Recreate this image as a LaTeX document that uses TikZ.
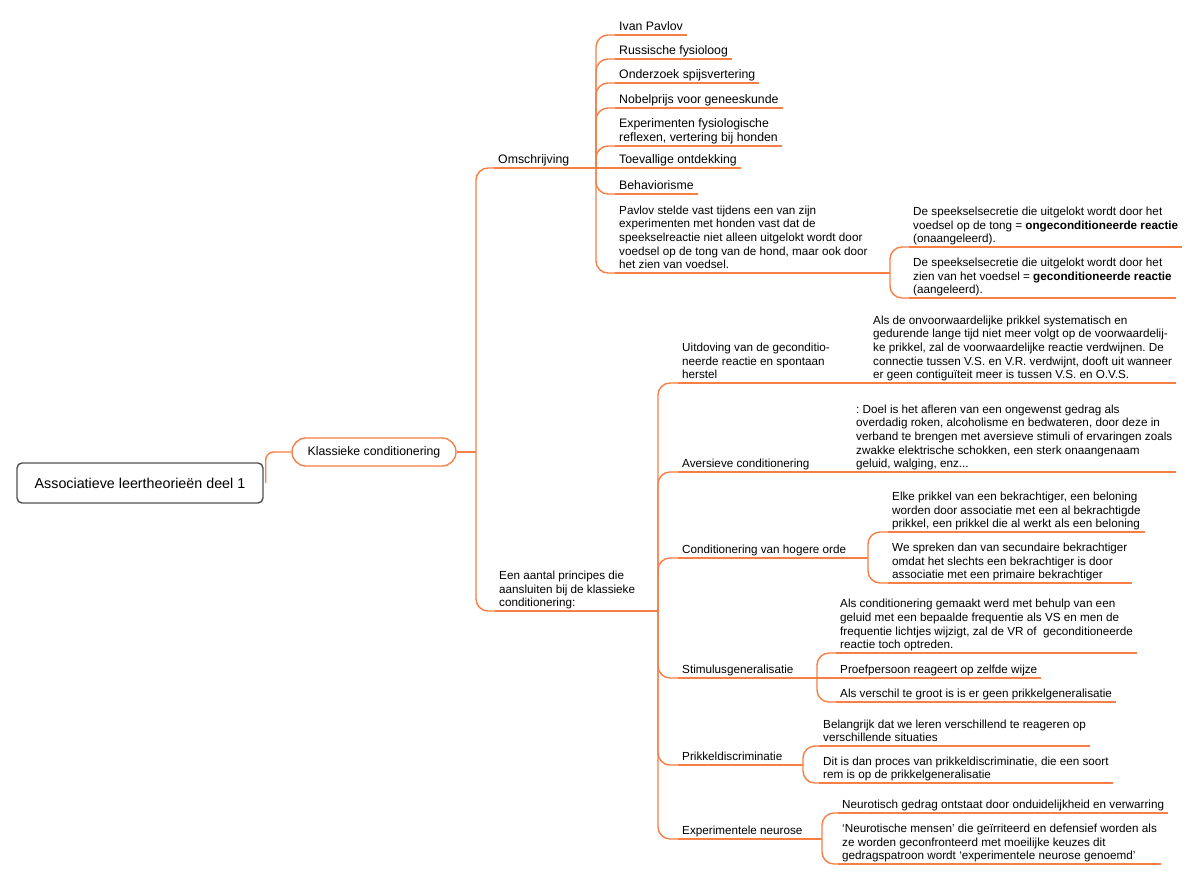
\documentclass[tikz,border=0pt]{standalone}
\usepackage{fontspec}
\setmainfont{Liberation Sans}
\usepackage{xcolor}
\usepackage{tikz}
\usetikzlibrary{positioning, calc}
\definecolor{mapline}{HTML}{F77E45}
\definecolor{rootline}{HTML}{505050}
\frenchspacing

\begin{document}
\begin{tikzpicture}[
            x=1pt, y=-1pt,
            rootbox/.style={rectangle, draw=rootline, line width=1.4pt, rounded corners=5pt, minimum width=246pt, minimum height=40pt, font=\fontsize{14.3}{16}\selectfont},
            mainbox/.style={rectangle, draw=mapline, line width=1.4pt, rounded corners=14pt, minimum width=164pt, minimum height=28pt, font=\fontsize{12.3}{14}\selectfont},
            topic/.style={anchor=south west, align=left, inner xsep=4pt, inner ysep=4pt, text depth=0pt, font=\fontsize{12.3}{14}\selectfont},
            leaf/.style={topic, font=\fontsize{11.7}{13.7}\selectfont},
            branch/.style={draw=mapline, line width=1.4pt, rounded corners=12pt}
        ]
            \useasboundingbox (0,0) rectangle (1200,883);

            % Nodes
            \node[rootbox] (root) at (140,483) {Associatieve leertheorieën deel 1};
            \node[mainbox] (klas) at (374,452) {Klassieke conditionering};

            \node[topic] (oms) at (494,168) {Omschrijving};
            \node[leaf] (een) at (495,611) {Een aantal principes die\\aansluiten bij de klassieke\\conditionering:};

            \node[topic] (ivan) at (615,35) {Ivan Pavlov};
            \node[topic] (rus) at (615,59) {Russische fysioloog};
            \node[topic] (ond) at (615,83) {Onderzoek spijsvertering};
            \node[topic] (nob) at (615,108) {Nobelprijs voor geneeskunde};
            \node[topic] (exper) at (615,146) {Experimenten fysiologische\\reflexen, vertering bij honden};
            \node[topic] (toe) at (615,168) {Toevallige ontdekking};
            \node[topic] (beh) at (615,194) {Behaviorisme};
            \node[leaf] (pav) at (615,273) {Pavlov stelde vast tijdens een van zijn\\experimenten met honden vast dat de\\speekselreactie niet alleen uitgelokt wordt door\\voedsel op de tong van de hond, maar ook door\\het zien van voedsel.};
            \node[leaf] (sp1) at (909,247) {De speekselsecretie die uitgelokt wordt door het\\voedsel op de tong = \textbf{ongeconditioneerde reactie}\\(onaangeleerd).};
            \node[leaf] (sp2) at (909,298) {De speekselsecretie die uitgelokt wordt door het\\zien van het voedsel = \textbf{geconditioneerde reactie}\\(aangeleerd).};

            \node[leaf] (uit) at (678,383) {Uitdoving van de geconditio-\\neerde reactie en spontaan\\herstel};
            \node[leaf] (uitc) at (869,383) {Als de onvoorwaardelijke prikkel systematisch en\\gedurende lange tijd niet meer volgt op de voorwaardelij-\\ke prikkel, zal de voorwaardelijke reactie verdwijnen. De\\connectie tussen V.S. en V.R. verdwijnt, dooft uit wanneer\\er geen contiguïteit meer is tussen V.S. en O.V.S.};
            \node[leaf] (ave) at (678,472) {Aversieve conditionering};
            \node[leaf] (avec) at (852,472) {: Doel is het afleren van een ongewenst gedrag als\\overdadig roken, alcoholisme en bedwateren, door deze in\\verband te brengen met aversieve stimuli of ervaringen zoals\\zwakke elektrische schokken, een sterk onaangenaam\\geluid, walging, enz...};
            \node[leaf] (hog) at (678,558) {Conditionering van hogere orde};
            \node[leaf] (hog1) at (888,532) {Elke prikkel van een bekrachtiger, een beloning\\worden door associatie met een al bekrachtigde\\prikkel, een prikkel die al werkt als een beloning};
            \node[leaf] (hog2) at (888,583) {We spreken dan van secundaire bekrachtiger\\omdat het slechts een bekrachtiger is door\\associatie met een primaire bekrachtiger};
            \node[leaf] (sti) at (678,678) {Stimulusgeneralisatie};
            \node[leaf] (sti1) at (836,653) {Als conditionering gemaakt werd met behulp van een\\geluid met een bepaalde frequentie als VS en men de\\frequentie lichtjes wijzigt, zal de VR of\ \ geconditioneerde\\reactie toch optreden.};
            \node[leaf] (sti2) at (836,678) {Proefpersoon reageert op zelfde wijze};
            \node[leaf] (sti3) at (836,702) {Als verschil te groot is is er geen prikkelgeneralisatie};
            \node[leaf] (pri) at (678,765) {Prikkeldiscriminatie};
            \node[leaf] (pri1) at (819,746) {Belangrijk dat we leren verschillend te reageren op\\verschillende situaties};
            \node[leaf] (pri2) at (819,783) {Dit is dan proces van prikkeldiscriminatie, die een soort\\rem is op de prikkelgeneralisatie};
            \node[leaf] (neu) at (678,839) {Experimentele neurose};
            \node[leaf] (neu1) at (838,813) {Neurotisch gedrag ontstaat door onduidelijkheid en verwarring};
            \node[leaf] (neu2) at (838,864) {‘Neurotische mensen’ die geïrriteerd en defensief worden als\\ze worden geconfronteerd met moeilijke keuzes dit\\gedragspatroon wordt ‘experimentele neurose genoemd’};

            % Branch points
            \coordinate (kt) at (476,452);
            \coordinate (omsT) at (596,168);
            \coordinate (pavT) at (890,273);
            \coordinate (eenT) at (658,611);
            \coordinate (hogT) at (868,558);
            \coordinate (stiT) at (817,678);
            \coordinate (priT) at (803,765);
            \coordinate (neuT) at (822,839);

            % Underlines
            \foreach \n in {oms,een,ivan,rus,ond,nob,exper,toe,beh,pav,sp1,sp2,uit,uitc,ave,avec,hog,hog1,hog2,sti,sti1,sti2,sti3,pri,pri1,pri2,neu,neu1,neu2}
                \draw[branch] (\n.south west) -- (\n.south east);

            % Connectors
            \draw[branch, rounded corners=8pt] (root.east) ++(2,0) |- (klas.west);
            \draw[branch] (klas.east) -- (kt);
            \draw[branch] (kt) |- (oms.south west);
            \draw[branch] (kt) |- (een.south west);

            \draw[branch] (oms.south east) -- (omsT);
            \foreach \n in {ivan,rus,ond,nob,exper,beh,pav}
                \draw[branch] (omsT) |- (\n.south west);
            \draw[branch] (omsT) -- (toe.south west);

            \draw[branch] (pav.south east) -- (pavT);
            \draw[branch] (pavT) |- (sp1.south west);
            \draw[branch] (pavT) |- (sp2.south west);

            \draw[branch] (een.south east) -- (eenT);
            \foreach \n in {uit,ave,hog,sti,pri,neu}
                \draw[branch] (eenT) |- (\n.south west);

            \draw[branch] (uit.south east) -- (uitc.south west);
            \draw[branch] (ave.south east) -- (avec.south west);

            \draw[branch] (hog.south east) -- (hogT);
            \draw[branch] (hogT) |- (hog1.south west);
            \draw[branch] (hogT) |- (hog2.south west);

            \draw[branch] (sti.south east) -- (stiT);
            \draw[branch] (stiT) |- (sti1.south west);
            \draw[branch] (stiT) -- (sti2.south west);
            \draw[branch] (stiT) |- (sti3.south west);

            \draw[branch] (pri.south east) -- (priT);
            \draw[branch] (priT) |- (pri1.south west);
            \draw[branch] (priT) |- (pri2.south west);

            \draw[branch] (neu.south east) -- (neuT);
            \draw[branch] (neuT) |- (neu1.south west);
            \draw[branch] (neuT) |- (neu2.south west);
        \end{tikzpicture}
\end{document}
